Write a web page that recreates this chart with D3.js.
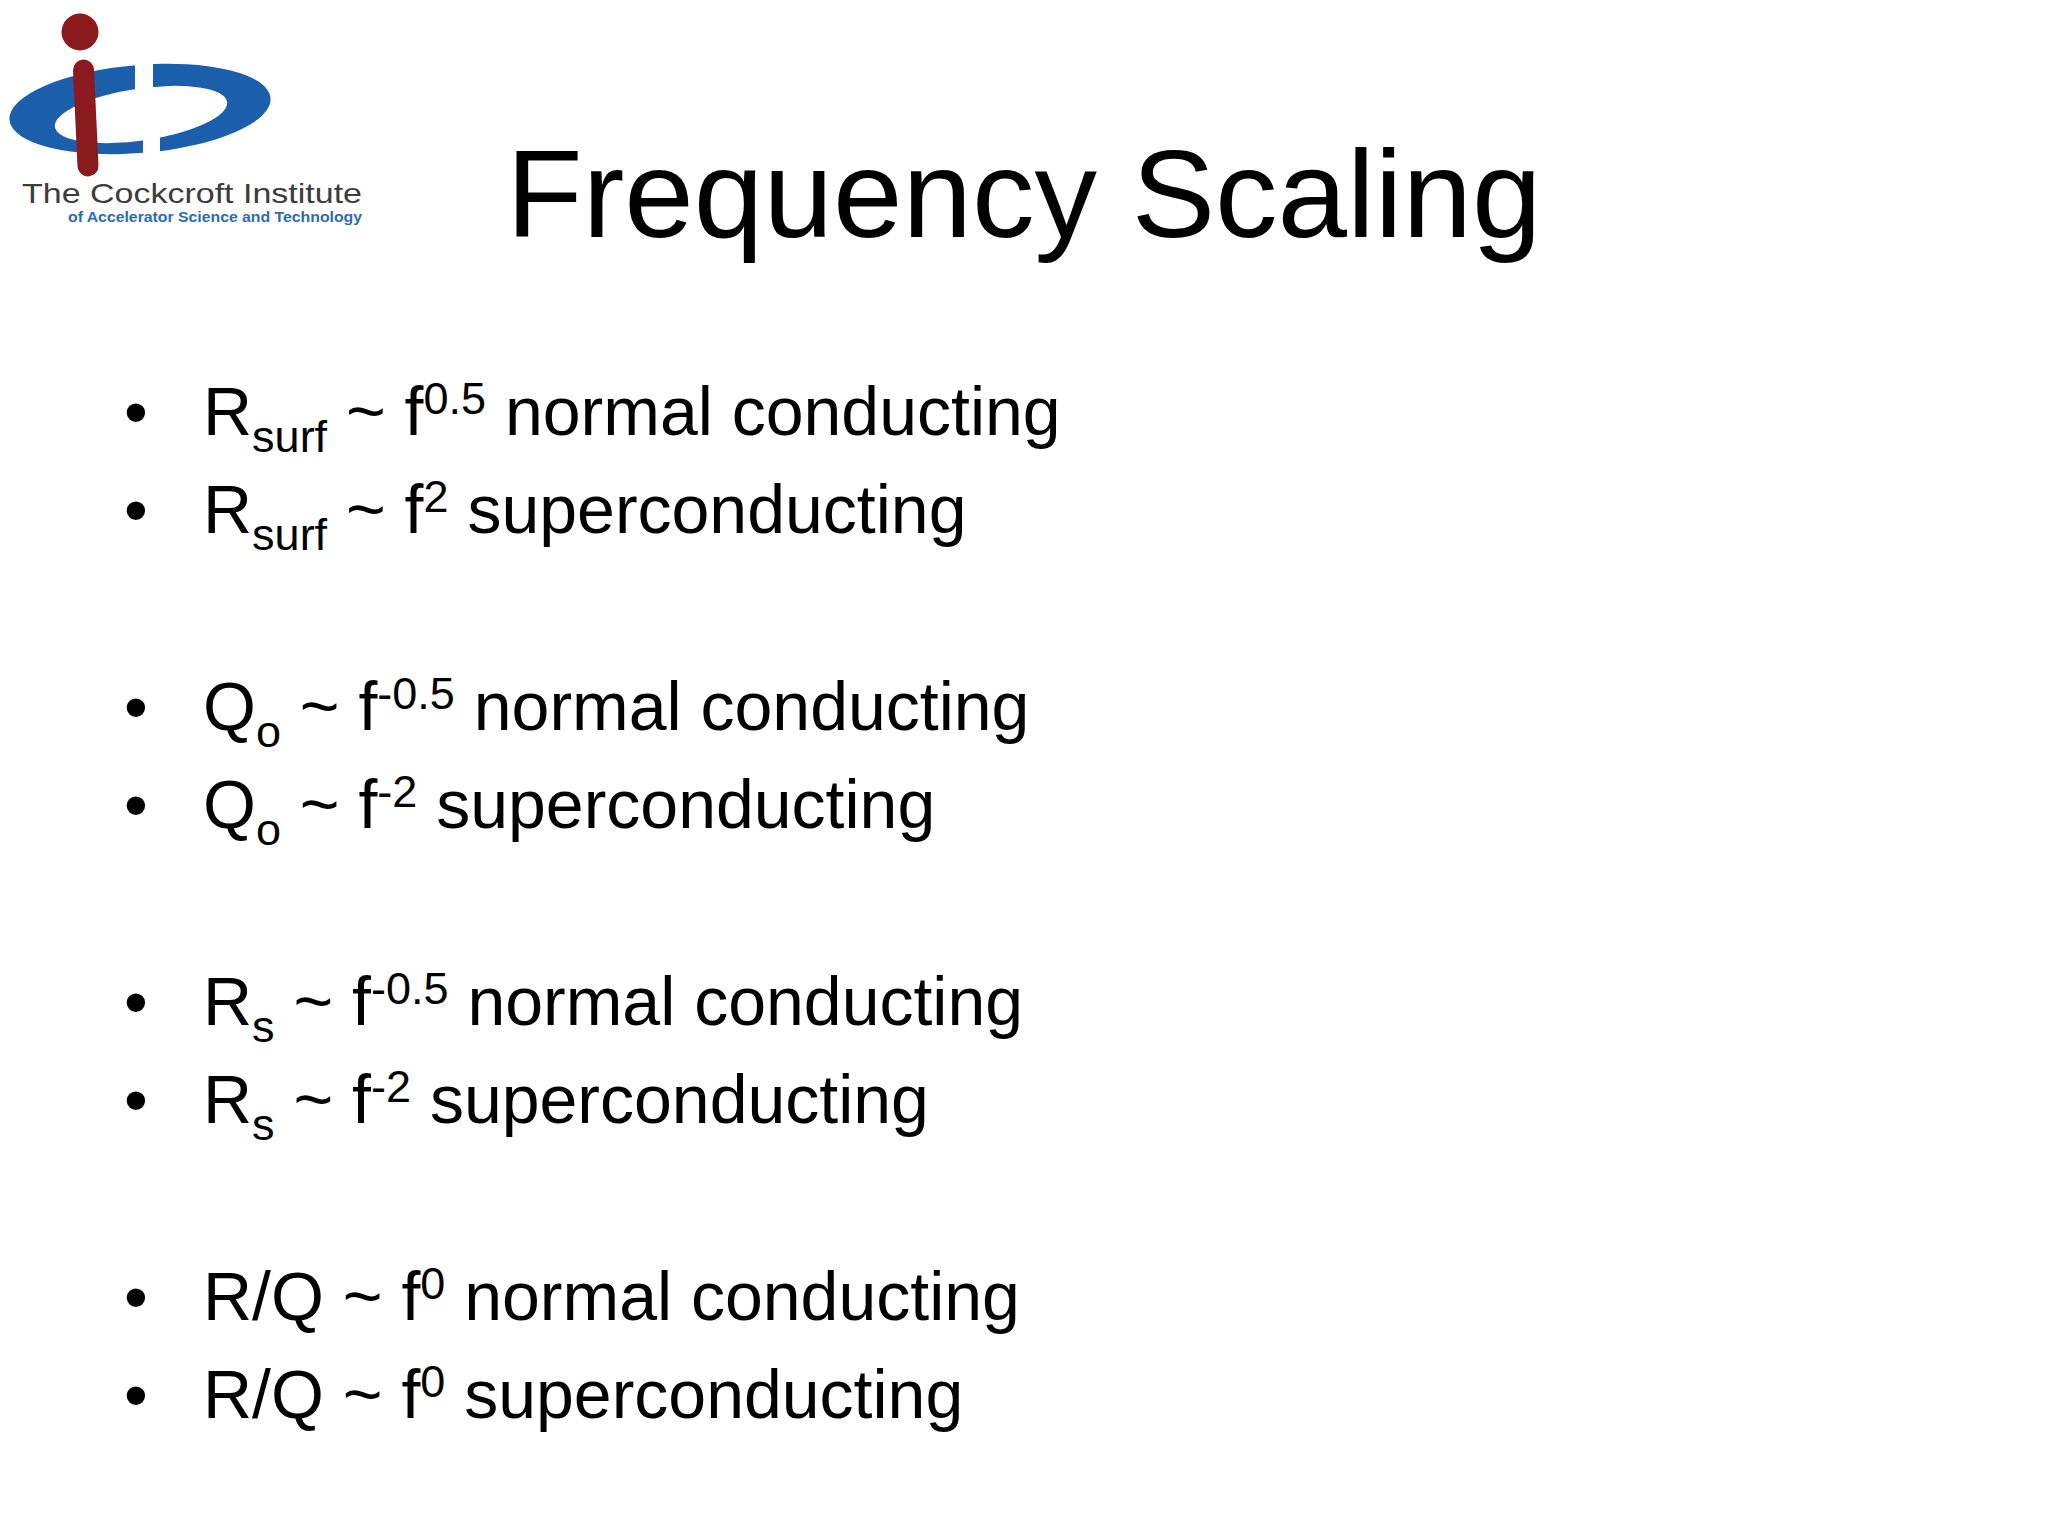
<!DOCTYPE html>
<html lang="en">
<head>
  <meta charset="UTF-8" />
  <title>Frequency Scaling</title>
  <script src="https://d3js.org/d3.v7.min.js"></script>
  <style>
    body {
      margin: 0;
      padding: 0;
      background: #ffffff;
    }
    svg text {
      font-family: "Liberation Sans", Arial, sans-serif;
      white-space: pre;
    }
  </style>
</head>
<body>

<div id="chart"></div>

<script>
  // Slide content
  const titleText = "Frequency Scaling";
  const symbols   = ["R", "R", "Q", "Q", "R", "R", "R/Q", "R/Q"];
  const subs      = ["surf", "surf", "o", "o", "s", "s", "", ""];
  const exponents = ["0.5", "2", "-0.5", "-2", "-0.5", "-2", "0", "0"];
  const regimes   = ["normal conducting", "superconducting",
                     "normal conducting", "superconducting",
                     "normal conducting", "superconducting",
                     "normal conducting", "superconducting"];
  // row slot of each bullet (blank slots separate the groups)
  const slots     = [0, 1, 3, 4, 6, 7, 9, 10];

  const width = 2048;
  const height = 1536;

  const svg = d3.select("#chart")
    .append("svg")
    .attr("width", width)
    .attr("height", height);

  svg.append("rect")
    .attr("width", width)
    .attr("height", height)
    .attr("fill", "#ffffff");

  // ---- logo ----
  const logo = svg.append("g").attr("class", "logo");
  const defs = svg.append("defs");

  const mask = defs.append("mask").attr("id", "ringGaps");
  mask.append("rect").attr("width", 400).attr("height", 250).attr("fill", "#fff");
  mask.append("rect").attr("x", 135).attr("y", 50).attr("width", 18).attr("height", 42).attr("fill", "#000");
  mask.append("rect").attr("x", 143).attr("y", 128).attr("width", 17).attr("height", 40).attr("fill", "#000");

  // tilted ellipse as two arcs between the ends of its major axis
  function tiltedEllipse(cx, cy, rx, ry, deg) {
    const t = deg * Math.PI / 180;
    const dx = rx * Math.cos(t), dy = rx * Math.sin(t);
    return `M${cx - dx},${cy - dy} A${rx},${ry} ${deg} 1,0 ${cx + dx},${cy + dy} ` +
           `A${rx},${ry} ${deg} 1,0 ${cx - dx},${cy - dy} Z`;
  }

  logo.append("path")
    .attr("d", tiltedEllipse(140, 109, 131, 44, -4.8) + " " + tiltedEllipse(141, 114.5, 87, 26, -8.3))
    .attr("fill", "#1b5eab")
    .attr("fill-rule", "evenodd")
    .attr("mask", "url(#ringGaps)");

  logo.append("line")
    .attr("x1", 83.5)
    .attr("y1", 70)
    .attr("x2", 88)
    .attr("y2", 166)
    .attr("stroke", "#8b1a1f")
    .attr("stroke-width", 21)
    .attr("stroke-linecap", "round");

  logo.append("circle")
    .attr("cx", 80)
    .attr("cy", 32)
    .attr("r", 18.5)
    .attr("fill", "#8b1a1f");

  logo.append("text")
    .attr("x", 22)
    .attr("y", 203)
    .attr("textLength", 340)
    .attr("lengthAdjust", "spacingAndGlyphs")
    .style("font-size", "28px")
    .style("fill", "#3c3c3c")
    .text("The Cockcroft Institute");

  logo.append("text")
    .attr("x", 68)
    .attr("y", 222)
    .attr("textLength", 294)
    .attr("lengthAdjust", "spacingAndGlyphs")
    .style("font-size", "14px")
    .style("font-weight", "bold")
    .style("fill", "#2a6cb8")
    .text("of Accelerator Science and Technology");

  // ---- title ----
  svg.append("text")
    .attr("x", width / 2)
    .attr("y", 237)
    .attr("text-anchor", "middle")
    .style("font-size", "125px")
    .style("fill", "#000")
    .text(titleText);

  // ---- bullets ----
  const y = d3.scaleLinear().domain([0, 10]).range([435, 1418]);
  const mainSize = 68;
  const scriptSize = 45;
  const subDrop = 17;
  const supRise = 21;

  const rows = d3.range(symbols.length).map(i => ({
    symbol: symbols[i], sub: subs[i], exp: exponents[i], regime: regimes[i], slot: slots[i]
  }));

  const row = svg.selectAll(".row")
    .data(rows)
    .enter()
    .append("g")
    .attr("class", "row")
    .attr("transform", d => `translate(0, ${y(d.slot)})`);

  row.append("text")
    .attr("x", 136)
    .attr("y", 0)
    .attr("text-anchor", "middle")
    .style("font-size", mainSize + "px")
    .style("fill", "#000")
    .text("\u2022");

  const line = row.append("text")
    .attr("x", 203)
    .attr("y", 0)
    .style("font-size", mainSize + "px")
    .style("fill", "#000");

  line.append("tspan").text(d => d.symbol);

  line.append("tspan")
    .style("font-size", scriptSize + "px")
    .attr("dy", d => d.sub ? subDrop : 0)
    .text(d => d.sub);

  line.append("tspan")
    .style("font-size", mainSize + "px")
    .attr("dy", d => d.sub ? -subDrop : 0)
    .text(" ~ f");

  line.append("tspan")
    .style("font-size", scriptSize + "px")
    .attr("dy", -supRise)
    .text(d => d.exp);

  line.append("tspan")
    .style("font-size", mainSize + "px")
    .attr("dy", supRise)
    .text(d => " " + d.regime);
</script>
</body>
</html>
